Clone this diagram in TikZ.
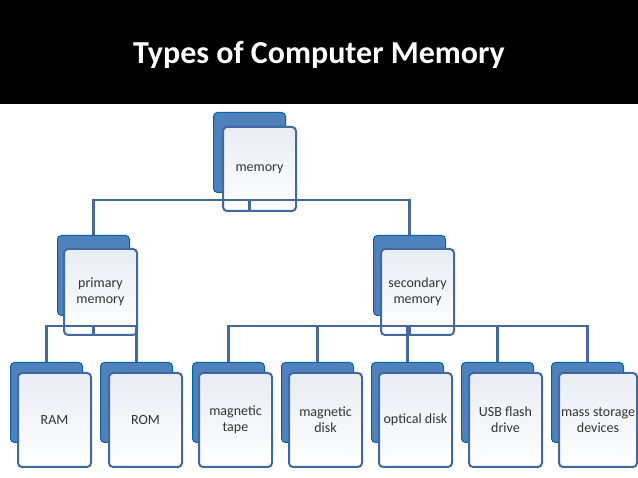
\documentclass[tikz,border=0pt]{standalone}
\usepackage{fontspec}
\setmainfont{Carlito}
\begin{document}
\begin{tikzpicture}[x=1pt,y=-1pt,
  back/.style={draw=blue!40!black!60!cyan,fill={rgb,255:red,79;green,129;blue,189},line width=1pt,rounded corners=4pt,minimum width=72pt,minimum height=80pt,anchor=north west,inner sep=0pt},
  front/.style={draw={rgb,255:red,65;green,105;blue,160},line width=2pt,rounded corners=4pt,top color={rgb,255:red,232;green,236;blue,243},bottom color=white,minimum width=73pt,minimum height=86pt,anchor=north west,align=center,font=\fontsize{14}{16}\selectfont,text=black!80,inner sep=2pt},
  conn/.style={draw={rgb,255:red,70;green,105;blue,155},line width=2.5pt}]
\useasboundingbox (0,0) rectangle (638,478);
\fill[black] (0,0) rectangle (638,104);
\node[text=white,font=\bfseries\fontsize{32}{36}\selectfont] (title) at (319,55) {Types of Computer Memory};
% top
\node[back] (memb) at (213,112) {};
\node[front,minimum height=84pt] (mem) at (222,126) {memory};
% second level
\node[back] (primb) at (57,235) {};
\node[front] (prim) at (63,248) {primary\\memory};
\node[back] (secb) at (373,235) {};
\node[front] (sec) at (380,248) {secondary\\memory};
% bottom level
\foreach \n/\bx/\fx/\t in {ram/10/17/RAM, rom/100/108/ROM, tape/192/198/{magnetic\\tape}, disk/281/288/{magnetic\\disk}, opt/371/378/{optical disk}, usb/461/468/{USB flash\\drive}, mass/551/558/{mass storage\\devices}}{
  \node[back] (\n b) at (\bx,362) {};
  \node[front,minimum height=94pt] (\n) at (\fx,372) {\t};
}
% connectors
\coordinate (j1) at ([yshift=12pt]mem.south);
\draw[conn] (memb.south |- mem.south) -- (memb.south |- j1) -| (primb.north);
\draw[conn] (memb.south |- j1) -| (secb.north);
\coordinate (j2) at ([yshift=10pt]prim.south);
\draw[conn] (primb.south |- prim.south) -- (primb.south |- j2) -| (ramb.north);
\draw[conn] (primb.south |- j2) -| (romb.north);
\draw[conn] (secb.south |- sec.south) -- (secb.south |- j2);
\draw[conn] (tapeb.north) |- (massb.north |- j2) -- (massb.north);
\foreach \n in {disk,opt,usb}{\draw[conn] (\n b.north |- j2) -- (\n b.north);}
\end{tikzpicture}
\end{document}
